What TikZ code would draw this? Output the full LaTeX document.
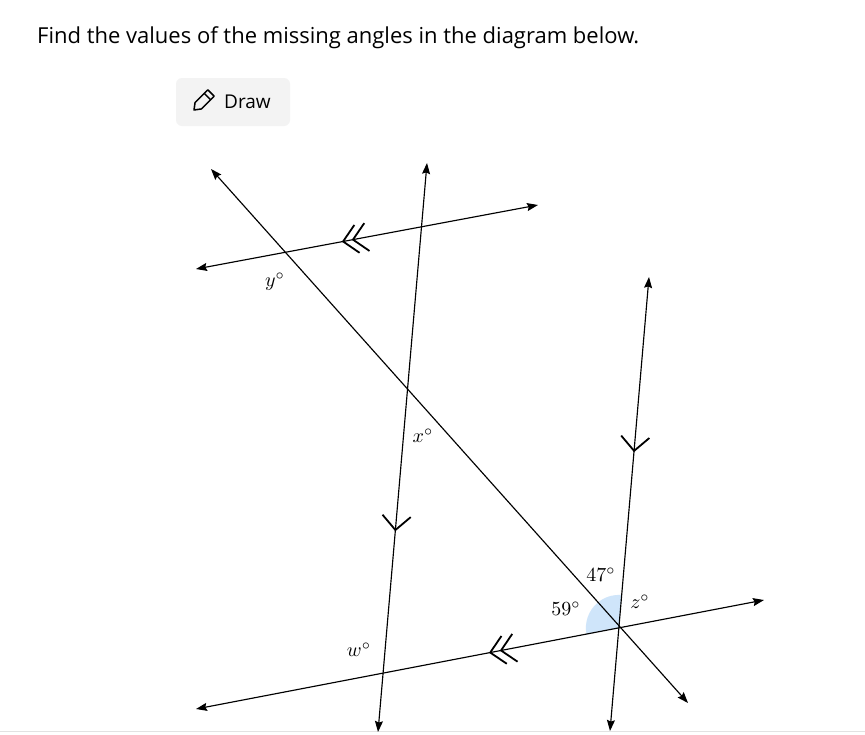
\documentclass[tikz,border=0pt]{standalone}
\usepackage{fontspec}
\setmainfont{Open Sans}
\usetikzlibrary{arrows.meta,calc}
\definecolor{sectorblue}{RGB}{207,229,250}
\definecolor{btngray}{RGB}{243,243,243}
\definecolor{rulegray}{RGB}{226,226,226}
\begin{document}
\begin{tikzpicture}[x=1pt,y=-1pt,
  geoline/.style={line width=1.15pt, {Stealth[length=11pt,width=8pt,inset=1.5pt]}-{Stealth[length=11pt,width=8pt,inset=1.5pt]}},
  chev/.style={line width=1.8pt},
  lab/.style={scale=2.0, transform shape, inner sep=0pt},
]
\useasboundingbox (0,0) rectangle (865,734);
\fill[white] (0,0) rectangle (865,734);
\draw[rulegray, line width=1pt] (0,731.5) -- (865,731.5);

% title
\node[anchor=base west, inner sep=0pt, font=\fontsize{22}{26}\selectfont] (title) at (37,43.5) {Find the values of the missing angles in the diagram below.};

% button
\node[fill=btngray, rounded corners=6pt, minimum width=114pt, minimum height=48pt, inner sep=0pt] (btn) at (233,102) {};
\node[anchor=base west, inner sep=0pt, font=\fontsize{19}{23}\selectfont] (btntext) at (224,108) {Draw};
\begin{scope}[shift={(194,110)}, rotate=45]
  \draw[line width=1.5pt, line join=round] (0,0) -- (6,-4.5) -- (24,-4.5) -- (24,4.5) -- (6,4.5) -- cycle;
  \draw[line width=1.5pt] (19,-4.5) -- (19,4.5);
\end{scope}

% end points
\coordinate (TA) at (211,169); \coordinate (TB) at (688,703);
\coordinate (PA) at (538,205); \coordinate (PB) at (196,269);
\coordinate (QA) at (764,600); \coordinate (QB) at (196,709);
\coordinate (LA) at (427,163); \coordinate (LB) at (378,732);
\coordinate (RA) at (649,277); \coordinate (RB) at (610,731);
\coordinate (O) at (intersection of QA--QB and RA--RB);

% shaded angle
\fill[sectorblue] (O) -- ($(O)!33pt!(QB)$) arc[start angle=-190.8, end angle=-85.1, radius=33] -- cycle;

% lines
\draw[geoline] (TA) -- (TB);
\draw[geoline] (PB) -- (PA);
\draw[geoline] (QB) -- (QA);
\draw[geoline] (LA) -- (LB);
\draw[geoline] (RA) -- (RB);

% parallel marks
\path (PA) -- (PB) coordinate[pos=0.570] (p1) coordinate[pos=0.541] (p2);
\path (QA) -- (QB) coordinate[pos=0.482] (q1) coordinate[pos=0.463] (q2);
\path (LA) -- (LB) coordinate[pos=0.645] (l1);
\path (RA) -- (RB) coordinate[pos=0.383] (r1);
\foreach \c/\f in {p1/PA, p2/PA, q1/QA, q2/QA, l1/LA, r1/RA}{
  \draw[chev] ($(\c)!20pt!45:(\f)$) -- (\c) -- ($(\c)!20pt!-45:(\f)$);
}

% labels
\node[lab] (ly) at (275,282) {$y^\circ$};
\node[lab] (lx) at (423,436) {$x^\circ$};
\node[lab] (lw) at (359,650) {$w^\circ$};
\node[lab] (l59) at (566,609) {$59^\circ$};
\node[lab] (l47) at (601,575) {$47^\circ$};
\node[lab] (lz) at (640,602) {$z^\circ$};
\end{tikzpicture}
\end{document}
